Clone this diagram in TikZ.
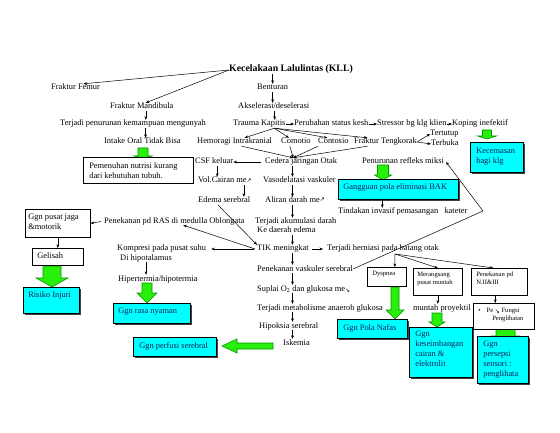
\documentclass[tikz,border=0pt]{standalone}
\usepackage{fontspec}
\setmainfont{Liberation Serif}
\newfontfamily\symf{DejaVu Sans}
\usetikzlibrary{arrows.meta,shadows}
\definecolor{cy}{RGB}{0,255,255}
\definecolor{gfill}{RGB}{40,240,10}
\definecolor{gdraw}{RGB}{0,150,0}
\definecolor{ink}{RGB}{20,30,90}
\newcommand{\mybox}[3]{\parbox[t][#2][t]{#1}{\raggedright #3}}
\newcommand{\ua}{{\symf\fontsize{6}{6}\selectfont\raisebox{1pt}{↗}}}
\newcommand{\da}{{\symf\fontsize{6}{6}\selectfont\raisebox{-1pt}{↘}}}
\begin{document}
\begin{tikzpicture}[x=1pt,y=-1pt,
  every node/.style={font=\fontsize{8.4}{10}\selectfont},
  t/.style={inner sep=0pt, anchor=west, text height=6pt, text depth=2pt},
  arr/.style={-{Stealth[length=3.5pt,width=2.8pt]}, line width=0.5pt},
  ln/.style={line width=0.5pt},
  wbox/.style={draw, line width=0.6pt, fill=white, anchor=north west},
  cbox/.style={draw, line width=0.6pt, fill=cy, text=ink, anchor=north west,
    drop shadow={shadow xshift=1.6pt, shadow yshift=-1.6pt, opacity=1, fill=black!75}},
  small/.style={font=\fontsize{6.6}{8}\selectfont},
  gar/.style={fill=gfill, draw=gdraw, line width=0.6pt}
]
\useasboundingbox[fill=white] (0,0) rectangle (560,433);

% ---------- text nodes ----------
\node[t, font=\fontsize{9.8}{11}\selectfont\bfseries] (title) at (229,70) {Kecelakaan Lalulintas (KLL)};
\node[t] (femur) at (51,88) {Fraktur Femur};
\node[t] (bentur) at (257,88) {Benturan};
\node[t] (mandib) at (110,107) {Fraktur Mandibula};
\node[t] (aksel) at (238,107) {Akselerasi/deselerasi};
\node[t] (kunyah) at (60,124) {Terjadi penurunan kemampuan mengunyah};
\node[t] (trauma) at (233,124) {Trauma Kapitis};
\node[t] (ubah) at (294,124) {Perubahan status kesh};
\node[t] (stress) at (377,124) {Stressor bg klg klien};
\node[t] (koping) at (452,124) {Koping inefektif};
\node[t] (intake) at (104,142) {Intake Oral Tidak Bisa};
\node[t] (hemor) at (197,142) {Hemoragi Intrakranial};
\node[t] (comot) at (281,142) {Comotio};
\node[t] (conto) at (318,142) {Contosio};
\node[t] (tengk) at (354,142) {Fraktur Tengkorak};
\node[t] (tutup) at (430,134) {Tertutup};
\node[t] (buka) at (431,144) {Terbuka};
\node[t] (csf) at (195,162) {CSF keluar};
\node[t] (cedera) at (265,162) {Cedera jaringan Otak};
\node[t] (miksi) at (362,162) {Penurunan refleks miksi};
\node[t] (volc) at (198,181) {Vol.Cairan me\ua};
\node[t] (vaso) at (263,181) {Vasodelatasi vaskuler};
\node[t] (edema) at (198,201) {Edema serebral};
\node[t] (aliran) at (265,201) {Aliran darah me\ua};
\node[t] (tindak) at (338,212) {Tindakan invasif pemasangan\ \ \ kateter};
\node[t] (ras) at (104,221) {Penekanan pd RAS di medulla Oblongata};
\node[t] (akum) at (255,222) {Terjadi akumulasi darah};
\node[t] (akum2) at (257,231) {Ke daerah edema};
\node[t] (tik) at (257,249) {TIK meningkat};
\node[t] (hern) at (327,249) {Terjadi herniasi pada batang otak};
\node[t] (komp) at (117,249) {Kompresi pada pusat suhu};
\node[t] (komp2) at (120,258) {Di hipotalamus};
\node[t] (vask) at (257,269) {Penekanan vaskuler serebral};
\node[t] (hiper) at (118,279) {Hipertermia/hipotermia};
\node[t] (suplai) at (257,289) {Suplai O\textsubscript{2} dan glukosa me\da};
\node[t] (meta) at (257,308) {Terjadi metabolisme anaerob glukosa};
\node[t] (munt) at (413,308) {muntah proyektil};
\node[t] (hipok) at (259,326) {Hipoksia serebral};
\node[t] (iskem) at (283,343) {Iskemia};

% ---------- green block arrows (drawn below boxes) ----------
\draw[gar] (138,148) -- (148,148) -- (148,156) -- (152,156) -- (143,159) -- (134,156) -- (138,156) -- cycle;
\draw[gar] (482.5,130) -- (491.5,130) -- (491.5,136) -- (496.5,136) -- (487,139) -- (477.5,136) -- (482.5,136) -- cycle;
\draw[gar] (377.5,165) -- (388.5,165) -- (388.5,175) -- (391.5,175) -- (383,180) -- (374.5,175) -- (377.5,175) -- cycle;
\draw[gar] (43,266) -- (61,266) -- (61,278) -- (68,278) -- (52,287) -- (36,278) -- (43,278) -- cycle;
\draw[gar] (142,283) -- (152,283) -- (152,293) -- (157,293) -- (147,303) -- (137,293) -- (142,293) -- cycle;
\draw[gar] (391,287) -- (399,287) -- (399,310) -- (404,310) -- (395,319) -- (386,310) -- (391,310) -- cycle;
\draw[gar] (432,313) -- (442,313) -- (442,322) -- (445,322) -- (437,327) -- (429,322) -- (432,322) -- cycle;
\draw[gar] (496,328) -- (515,328) -- (515,336) -- (519,336) -- (505.5,342) -- (492,336) -- (496,336) -- cycle;
\draw[gar] (273,343) -- (237,343) -- (237,339) -- (222,346) -- (237,353) -- (237,349) -- (273,349) -- cycle;

% ---------- boxes ----------
\node[wbox, inner xsep=6pt, inner ysep=5pt] (nutri) at (83,157) {\mybox{98pt}{16pt}{Pemenuhan nutrisi kurang\\dari kebutuhan tubuh.}};
\node[wbox, inner xsep=3pt, inner ysep=5pt] (pusat) at (25,209) {\mybox{59pt}{18pt}{Ggn pusat jaga\\\&motorik}};
\node[wbox, inner xsep=5pt, inner ysep=4pt] (gelisah) at (32,248) {\mybox{41pt}{9pt}{Gelisah}};
\node[cbox, inner xsep=5pt, inner ysep=4pt] (risiko) at (23,287) {\mybox{46pt}{18pt}{Risiko Injuri}};
\node[cbox, inner xsep=5pt, inner ysep=5pt] (rasa) at (113,303) {\mybox{67pt}{10pt}{Ggn rasa nyaman}};
\node[cbox, inner xsep=6pt, inner ysep=5pt] (perfusi) at (133,337) {\mybox{71pt}{9pt}{Ggn perfusi serebral}};
\node[cbox, inner xsep=6pt, inner ysep=6pt] (cemas) at (470,142) {\mybox{41pt}{18pt}{Kecemasan\\bagi klg}};
\node[cbox, inner xsep=5pt, inner ysep=4pt] (bak) at (338,179) {\mybox{110pt}{12pt}{Gangguan pola eliminasi BAK}};
\node[wbox, small, inner xsep=5pt, inner ysep=4pt] (dysp) at (367,267) {\mybox{29pt}{11pt}{Dyspnea}};
\node[wbox, small, inner xsep=4pt, inner ysep=4pt] (mer) at (413,268) {\mybox{41pt}{19pt}{Merangsang\\pusat muntah}};
\node[wbox, small, inner xsep=5pt, inner ysep=4pt] (npd) at (471,268) {\mybox{46pt}{19pt}{Penekanan pd\\N.II\&III}};
\node[wbox, small, inner xsep=5pt, inner ysep=5pt] (pe) at (473,303) {\mybox{51pt}{16pt}{\textbullet\hspace{6pt}Pe \da\ Fungsi\\\hspace{14pt}Penglihatan}};
\node[cbox, inner xsep=6pt, inner ysep=5pt] (nafas) at (337,319) {\mybox{58pt}{9pt}{Ggn Pola Nafas}};
\node[cbox, inner xsep=6pt, inner ysep=4pt] (seimb) at (409,327) {\mybox{51pt}{42pt}{Ggn\\keseimbangan\\cairan \&\\elektrolit}};
\node[cbox, inner xsep=6pt, inner ysep=5pt] (persep) at (477,336) {\mybox{39pt}{37pt}{Ggn\\persepsi\\sensori :\\penglihata}};

% ---------- connectors ----------
\coordinate (vx) at (292.5,0);
\coordinate (bend) at (483,211);
\coordinate (hs) at (395,254);

\draw[arr] (title.west) -- ([xshift=8pt]femur.north);
\draw[arr] (title.west) -- ([xshift=4pt]mandib.north);
\draw[arr] (bentur.north |- title.south) -- (bentur.north);
\draw[arr] (bentur.south) -- (bentur.south |- aksel.north);
\draw[arr] ([xshift=1pt]aksel.south) -- ([xshift=1pt]aksel.south |- trauma.north);
\draw[arr] (trauma.east) -- (ubah.west);
\draw[arr] (ubah.east) -- (stress.west);
\draw[arr] (stress.east) -- (koping.west);
\draw[arr] ([xshift=4pt]mandib.south) -- ([xshift=4pt]mandib.south |- kunyah.north);
\draw[arr] ([xshift=12.5pt]kunyah.south) -- ([xshift=12.5pt]kunyah.south |- intake.north);

\draw[arr] ([xshift=15pt]trauma.south) -- ([xshift=10pt]hemor.north);
\draw[arr] ([xshift=15pt]trauma.south) -- ([xshift=-7pt]comot.north);
\draw[arr] ([xshift=15pt]trauma.south) -- ([xshift=-6pt]conto.north);
\draw[arr] ([xshift=15pt]trauma.south) -- ([xshift=-18pt]tengk.north);

\draw[arr] ([xshift=7pt]hemor.south) -- ([xshift=-8pt]cedera.north);
\draw[arr] ([xshift=-6pt]comot.south) -- ([xshift=-8pt]cedera.north);
\draw[arr] (conto.south west) -- ([xshift=-8pt]cedera.north);
\draw[arr] ([xshift=-18pt]tengk.south) -- ([xshift=-8pt]cedera.north);
\draw[arr] (tengk.east) -- (tutup.west);
\draw[arr] (tengk.east) -- (buka.west);

\draw[arr, shorten <=4pt] (cedera.west) -- (csf.east);
\draw[arr] ([xshift=3pt]csf.south) -- ([xshift=3pt]csf.south |- volc.north);
\draw[arr] ([xshift=19pt]volc.south) -- ([xshift=19pt]volc.south |- edema.north);
\draw[arr] (vx |- cedera.south) -- (vx |- vaso.north);
\draw[arr] (vx |- vaso.south) -- (vx |- aliran.north);
\draw[arr] (vx |- aliran.south) -- (vx |- akum.north);
\draw[arr] (vx |- akum2.south) -- (vx |- tik.north);
\draw[arr] (vx |- tik.south) -- (vx |- vask.north);
\draw[arr] (vx |- vask.south) -- (vx |- suplai.north);
\draw[arr] (vx |- suplai.south) -- (vx |- meta.north);
\draw[arr] (vx |- meta.south) -- (vx |- hipok.north);
\draw[arr] (vx |- hipok.south) -- (vx |- iskem.north);

\draw[arr] ([xshift=-6pt]edema.south) -- (tik.north west);
\draw[arr] ([xshift=-2pt]tik.west) -- ([xshift=9pt]ras.south);
\draw[arr, shorten >=5pt] ([xshift=-3pt]tik.west) -- (komp.east);
\draw[arr] (komp2.south) -- (komp2.south |- hiper.north);
\draw[arr, shorten <=3pt, shorten >=4pt] (tik.east) -- (hern.west);
\draw[arr, shorten <=3pt] (ras.west) -- (pusat.east);
\draw[arr] (pusat.south) -- (pusat.south |- gelisah.north);

\draw[arr] (hs) -- ([xshift=8pt]dysp.north);
\draw[arr] (hs) -- (mer.north);
\draw[arr] (hs) -- ([xshift=-6pt]npd.north);
\draw[arr] (vask.east) -- (bend) -- ([xshift=2pt]miksi.east);
\draw[arr] ([xshift=-16pt]bak.south) -- ([xshift=-16pt]bak.south |- tindak.north);
\draw[arr] (mer.south) -- (mer.south |- munt.north);
\draw[arr] ([xshift=-4pt]npd.south) -- ([xshift=-4pt]npd.south |- pe.north);
\end{tikzpicture}
\end{document}
